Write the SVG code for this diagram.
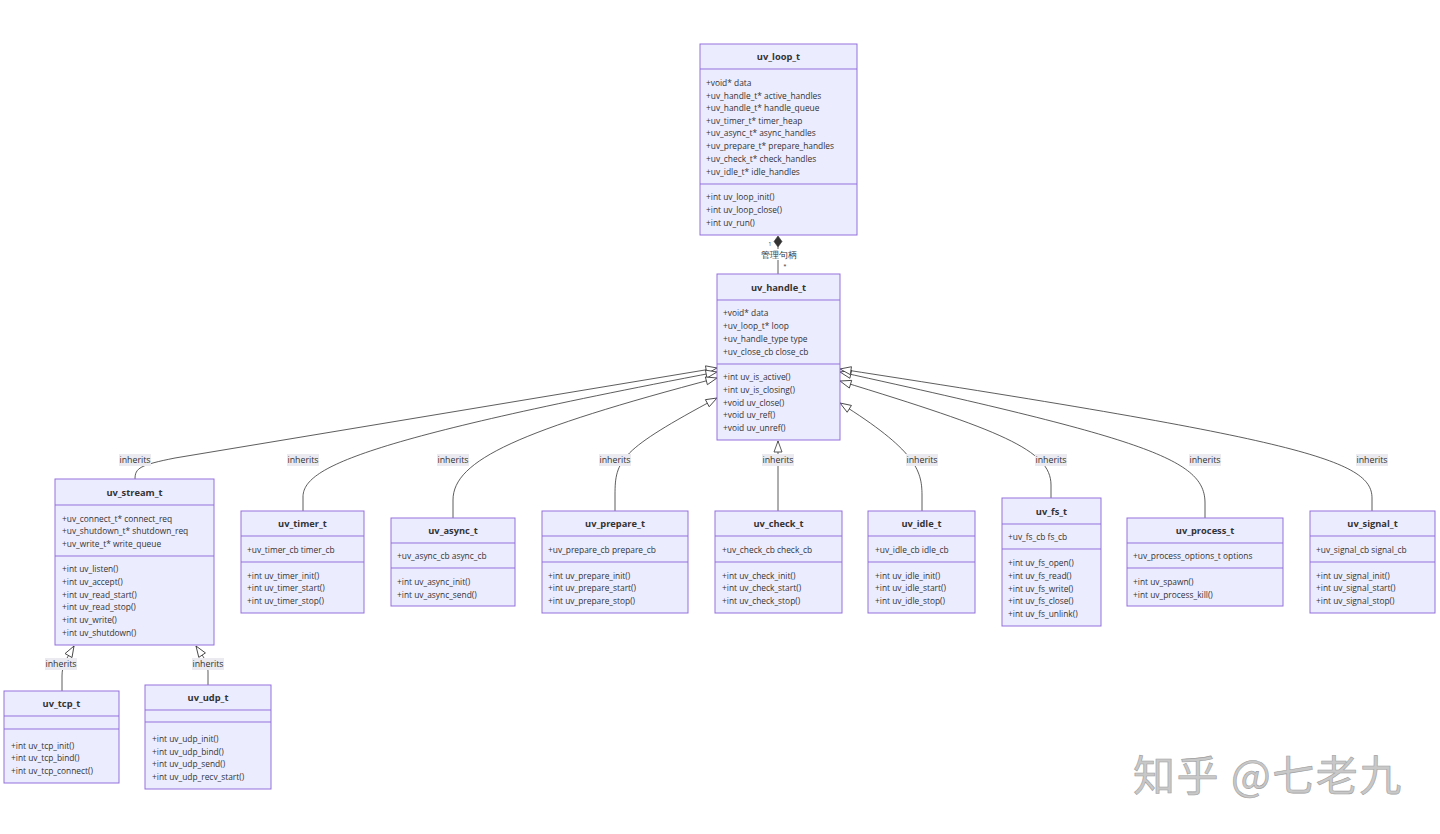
<svg xmlns="http://www.w3.org/2000/svg" width="1440" height="834" viewBox="0 0 1440 834">
<style>
.box{fill:#ECECFF;stroke:#9370DB;stroke-width:1}
.div{stroke:#9370DB;stroke-width:1}
.t{font-family:"Open Sans","Liberation Sans",sans-serif;font-size:8.4px;fill:#333}
.h{font-family:"Open Sans","Liberation Sans",sans-serif;font-size:9.3px;font-weight:bold;fill:#333;text-anchor:middle}
.e{fill:none;stroke:#333;stroke-width:0.8}
.lb{fill:#eaeaf0}
.lt{font-family:"Open Sans","Liberation Sans",sans-serif;font-size:8.8px;fill:#333;text-anchor:middle}
.wm{font-family:"Noto Sans CJK SC",sans-serif;font-size:42px;letter-spacing:1.5px;fill:#c8c8c8;stroke:#a0a0a0;stroke-width:0.6}
</style>
<defs>
<marker id="tri" markerUnits="userSpaceOnUse" markerWidth="14" markerHeight="12" refX="12" refY="5" orient="auto">
<path d="M1,1 L12,5 L1,9 Z" fill="#fff" stroke="#333" stroke-width="0.8"/>
</marker>
</defs>
<rect width="1440" height="834" fill="#fff"/>

<g id="connectors">
<path class="e" d="M778,274 L778,247"/>
<path d="M778,236 L782,241.5 L778,247 L774,241.5 Z" fill="#333" stroke="#333" stroke-width="0.6"/>
<path class="e" d="M135,479 C135,468 140,465 175,458 L717,368" marker-end="url(#tri)"/>
<path class="e" d="M303,511 L303,497 C303,468 360,440 717,372" marker-end="url(#tri)"/>
<path class="e" d="M453,518 L453,500 C453,460 520,430 717,378" marker-end="url(#tri)"/>
<path class="e" d="M615,511 L615,495 C615,460 620,450 717,398" marker-end="url(#tri)"/>
<path class="e" d="M778,511 L778,441" marker-end="url(#tri)"/>
<path class="e" d="M922,511 L922,495 C922,470 915,450 840,403" marker-end="url(#tri)"/>
<path class="e" d="M1051,498 L1051,485 C1051,450 1000,430 840,381" marker-end="url(#tri)"/>
<path class="e" d="M1205,518 L1205,503 C1205,460 1150,440 840,372" marker-end="url(#tri)"/>
<path class="e" d="M1372,511 L1372,498 C1372,460 1300,440 840,369" marker-end="url(#tri)"/>
<path class="e" d="M62,691 L62,676 C62,665 66,660 74,646" marker-end="url(#tri)"/>
<path class="e" d="M208,685 L208,672 C208,662 204,658 196,646" marker-end="url(#tri)"/>
<rect x="760" y="249" width="37" height="11" fill="#fff"/>
<text class="lt" x="779" y="258">管理句柄</text>
<text class="lt" x="770" y="246" style="font-size:5px">1</text>
<text class="lt" x="785" y="268" style="font-size:6px">*</text>
<rect class="lb" x="119" y="454" width="32" height="12"/><text class="lt" x="135" y="463">inherits</text>
<rect class="lb" x="287" y="454" width="32" height="12"/><text class="lt" x="303" y="463">inherits</text>
<rect class="lb" x="437" y="454" width="32" height="12"/><text class="lt" x="453" y="463">inherits</text>
<rect class="lb" x="599" y="454" width="32" height="12"/><text class="lt" x="615" y="463">inherits</text>
<rect class="lb" x="762" y="454" width="32" height="12"/><text class="lt" x="778" y="463">inherits</text>
<rect class="lb" x="906" y="454" width="32" height="12"/><text class="lt" x="922" y="463">inherits</text>
<rect class="lb" x="1035" y="454" width="32" height="12"/><text class="lt" x="1051" y="463">inherits</text>
<rect class="lb" x="1189" y="454" width="32" height="12"/><text class="lt" x="1205" y="463">inherits</text>
<rect class="lb" x="1356" y="454" width="32" height="12"/><text class="lt" x="1372" y="463">inherits</text>
<rect class="lb" x="45" y="658" width="32" height="12"/><text class="lt" x="61" y="667">inherits</text>
<rect class="lb" x="192" y="658" width="32" height="12"/><text class="lt" x="208" y="667">inherits</text>
</g>

<g id="uv_loop_t">
<rect class="box" x="700" y="44" width="157" height="191"/>
<line class="div" x1="700" y1="69" x2="857" y2="69"/>
<line class="div" x1="700" y1="184" x2="857" y2="184"/>
<text class="h" x="778.5" y="59.5">uv_loop_t</text>
<text class="t" x="706" y="85.5">+void* data</text>
<text class="t" x="706" y="98.5">+uv_handle_t* active_handles</text>
<text class="t" x="706" y="110.5">+uv_handle_t* handle_queue</text>
<text class="t" x="706" y="123.5">+uv_timer_t* timer_heap</text>
<text class="t" x="706" y="135.5">+uv_async_t* async_handles</text>
<text class="t" x="706" y="148.5">+uv_prepare_t* prepare_handles</text>
<text class="t" x="706" y="161.5">+uv_check_t* check_handles</text>
<text class="t" x="706" y="174.5">+uv_idle_t* idle_handles</text>
<text class="t" x="706" y="199.5">+int uv_loop_init()</text>
<text class="t" x="706" y="212.5">+int uv_loop_close()</text>
<text class="t" x="706" y="225.5">+int uv_run()</text>
</g>

<g id="uv_handle_t">
<rect class="box" x="717" y="274" width="123" height="166"/>
<line class="div" x1="717" y1="300" x2="840" y2="300"/>
<line class="div" x1="717" y1="364" x2="840" y2="364"/>
<text class="h" x="778.5" y="290.5">uv_handle_t</text>
<text class="t" x="723" y="315.5">+void* data</text>
<text class="t" x="723" y="328.5">+uv_loop_t* loop</text>
<text class="t" x="723" y="341.5">+uv_handle_type type</text>
<text class="t" x="723" y="354.5">+uv_close_cb close_cb</text>
<text class="t" x="723" y="379.5">+int uv_is_active()</text>
<text class="t" x="723" y="392.5">+int uv_is_closing()</text>
<text class="t" x="723" y="405.5">+void uv_close()</text>
<text class="t" x="723" y="417.5">+void uv_ref()</text>
<text class="t" x="723" y="430.5">+void uv_unref()</text>
</g>

<g id="uv_stream_t">
<rect class="box" x="55" y="479" width="159" height="166"/>
<line class="div" x1="55" y1="505" x2="214" y2="505"/>
<line class="div" x1="55" y1="556" x2="214" y2="556"/>
<text class="h" x="134.5" y="495.5">uv_stream_t</text>
<text class="t" x="62" y="521.5">+uv_connect_t* connect_req</text>
<text class="t" x="62" y="533.5">+uv_shutdown_t* shutdown_req</text>
<text class="t" x="62" y="546.5">+uv_write_t* write_queue</text>
<text class="t" x="62" y="571.5">+int uv_listen()</text>
<text class="t" x="62" y="584.5">+int uv_accept()</text>
<text class="t" x="62" y="597.5">+int uv_read_start()</text>
<text class="t" x="62" y="609.5">+int uv_read_stop()</text>
<text class="t" x="62" y="622.5">+int uv_write()</text>
<text class="t" x="62" y="635.5">+int uv_shutdown()</text>
</g>

<g id="uv_tcp_t">
<rect class="box" x="4" y="691" width="115" height="92"/>
<line class="div" x1="4" y1="716" x2="119" y2="716"/>
<line class="div" x1="4" y1="729" x2="119" y2="729"/>
<text class="h" x="61.5" y="706.5">uv_tcp_t</text>
<text class="t" x="11" y="748.5">+int uv_tcp_init()</text>
<text class="t" x="11" y="760.5">+int uv_tcp_bind()</text>
<text class="t" x="11" y="773.5">+int uv_tcp_connect()</text>
</g>

<g id="uv_udp_t">
<rect class="box" x="145" y="685" width="126" height="104"/>
<line class="div" x1="145" y1="710" x2="271" y2="710"/>
<line class="div" x1="145" y1="722" x2="271" y2="722"/>
<text class="h" x="208" y="700.5">uv_udp_t</text>
<text class="t" x="152" y="741.5">+int uv_udp_init()</text>
<text class="t" x="152" y="754.5">+int uv_udp_bind()</text>
<text class="t" x="152" y="766.5">+int uv_udp_send()</text>
<text class="t" x="152" y="779.5">+int uv_udp_recv_start()</text>
</g>

<g id="uv_timer_t">
<rect class="box" x="241" y="511" width="123" height="102"/>
<line class="div" x1="241" y1="536" x2="364" y2="536"/>
<line class="div" x1="241" y1="562" x2="364" y2="562"/>
<text class="h" x="302.5" y="526.5">uv_timer_t</text>
<text class="t" x="247" y="552.5">+uv_timer_cb timer_cb</text>
<text class="t" x="247" y="578.5">+int uv_timer_init()</text>
<text class="t" x="247" y="590.5">+int uv_timer_start()</text>
<text class="t" x="247" y="603.5">+int uv_timer_stop()</text>
</g>

<g id="uv_async_t">
<rect class="box" x="391" y="518" width="124" height="88"/>
<line class="div" x1="391" y1="543" x2="515" y2="543"/>
<line class="div" x1="391" y1="568" x2="515" y2="568"/>
<text class="h" x="453" y="533.5">uv_async_t</text>
<text class="t" x="397" y="558.5">+uv_async_cb async_cb</text>
<text class="t" x="397" y="584.5">+int uv_async_init()</text>
<text class="t" x="397" y="597.5">+int uv_async_send()</text>
</g>

<g id="uv_prepare_t">
<rect class="box" x="542" y="511" width="146" height="102"/>
<line class="div" x1="542" y1="536" x2="688" y2="536"/>
<line class="div" x1="542" y1="562" x2="688" y2="562"/>
<text class="h" x="615" y="526.5">uv_prepare_t</text>
<text class="t" x="548" y="552.5">+uv_prepare_cb prepare_cb</text>
<text class="t" x="548" y="578.5">+int uv_prepare_init()</text>
<text class="t" x="548" y="590.5">+int uv_prepare_start()</text>
<text class="t" x="548" y="603.5">+int uv_prepare_stop()</text>
</g>

<g id="uv_check_t">
<rect class="box" x="715" y="511" width="127" height="102"/>
<line class="div" x1="715" y1="536" x2="842" y2="536"/>
<line class="div" x1="715" y1="562" x2="842" y2="562"/>
<text class="h" x="778.5" y="526.5">uv_check_t</text>
<text class="t" x="722" y="552.5">+uv_check_cb check_cb</text>
<text class="t" x="722" y="578.5">+int uv_check_init()</text>
<text class="t" x="722" y="590.5">+int uv_check_start()</text>
<text class="t" x="722" y="603.5">+int uv_check_stop()</text>
</g>

<g id="uv_idle_t">
<rect class="box" x="868" y="511" width="107" height="102"/>
<line class="div" x1="868" y1="536" x2="975" y2="536"/>
<line class="div" x1="868" y1="562" x2="975" y2="562"/>
<text class="h" x="921.5" y="526.5">uv_idle_t</text>
<text class="t" x="875" y="552.5">+uv_idle_cb idle_cb</text>
<text class="t" x="875" y="578.5">+int uv_idle_init()</text>
<text class="t" x="875" y="590.5">+int uv_idle_start()</text>
<text class="t" x="875" y="603.5">+int uv_idle_stop()</text>
</g>

<g id="uv_fs_t">
<rect class="box" x="1002" y="498" width="99" height="128"/>
<line class="div" x1="1002" y1="524" x2="1101" y2="524"/>
<line class="div" x1="1002" y1="549" x2="1101" y2="549"/>
<text class="h" x="1051.5" y="514.5">uv_fs_t</text>
<text class="t" x="1008" y="539.5">+uv_fs_cb fs_cb</text>
<text class="t" x="1008" y="565.5">+int uv_fs_open()</text>
<text class="t" x="1008" y="578.5">+int uv_fs_read()</text>
<text class="t" x="1008" y="591.5">+int uv_fs_write()</text>
<text class="t" x="1008" y="603.5">+int uv_fs_close()</text>
<text class="t" x="1008" y="616.5">+int uv_fs_unlink()</text>
</g>

<g id="uv_process_t">
<rect class="box" x="1127" y="518" width="156" height="88"/>
<line class="div" x1="1127" y1="543" x2="1283" y2="543"/>
<line class="div" x1="1127" y1="568" x2="1283" y2="568"/>
<text class="h" x="1205" y="533.5">uv_process_t</text>
<text class="t" x="1133" y="558.5">+uv_process_options_t options</text>
<text class="t" x="1133" y="584.5">+int uv_spawn()</text>
<text class="t" x="1133" y="597.5">+int uv_process_kill()</text>
</g>

<g id="uv_signal_t">
<rect class="box" x="1310" y="511" width="125" height="102"/>
<line class="div" x1="1310" y1="536" x2="1435" y2="536"/>
<line class="div" x1="1310" y1="562" x2="1435" y2="562"/>
<text class="h" x="1372.5" y="526.5">uv_signal_t</text>
<text class="t" x="1316" y="552.5">+uv_signal_cb signal_cb</text>
<text class="t" x="1316" y="578.5">+int uv_signal_init()</text>
<text class="t" x="1316" y="590.5">+int uv_signal_start()</text>
<text class="t" x="1316" y="603.5">+int uv_signal_stop()</text>
</g>

<text class="wm" x="1133" y="791">知乎 @七老九</text>
</svg>
